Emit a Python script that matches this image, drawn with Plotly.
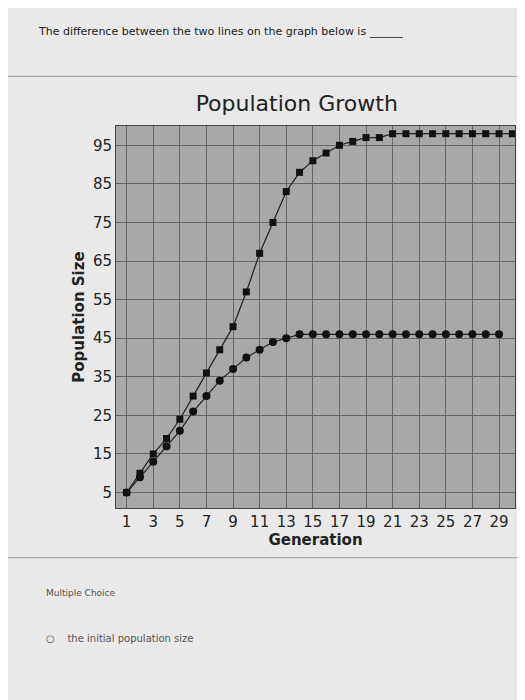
import plotly.graph_objects as go

gens = list(range(1, 31))
squares = [5, 10, 15, 19, 24, 30, 36, 42, 48, 57, 67, 75, 83, 88, 91, 93, 95, 96, 97, 97,
           98, 98, 98, 98, 98, 98, 98, 98, 98, 98]
circ_gens = list(range(1, 30))
circles = [5, 9, 13, 17, 21, 26, 30, 34, 37, 40, 42, 44, 45, 46, 46, 46, 46, 46, 46, 46,
           46, 46, 46, 46, 46, 46, 46, 46, 46]
xticks = list(range(1, 30, 2))
yticks = list(range(5, 100, 10))

fig = go.Figure()
fig.add_trace(go.Scatter(x=gens, y=squares, mode="lines+markers",
                         line=dict(color="#222", width=1.2),
                         marker=dict(symbol="square", size=7, color="#111")))
fig.add_trace(go.Scatter(x=circ_gens, y=circles, mode="lines+markers",
                         line=dict(color="#222", width=1.2),
                         marker=dict(symbol="circle", size=8, color="#111")))

fig.update_layout(
    width=525, height=700, showlegend=False,
    paper_bgcolor="#e9e9e9", plot_bgcolor="#a8a8a8",
    margin=dict(l=108, r=18, t=118, b=200),
    font=dict(family="DejaVu Sans", color="#222"),
    title=dict(text="Population Growth", x=0.55, y=0.875,
               font=dict(size=22, color="#222")),
    xaxis=dict(range=[0.2, 30.2], tickvals=xticks, showgrid=True,
               gridcolor="#666", gridwidth=1, zeroline=False,
               title=dict(text="<b>Generation</b>", font=dict(size=15), standoff=2),
               tickfont=dict(size=15), showline=True, linecolor="#444", mirror=True),
    yaxis=dict(range=[1, 100], tickvals=yticks, showgrid=True,
               gridcolor="#666", zeroline=False,
               title=dict(text="<b>Population Size</b>", font=dict(size=15), standoff=4),
               tickfont=dict(size=15), showline=True, linecolor="#444", mirror=True),
    shapes=[dict(type="rect", xref="paper", yref="paper", x0=-0.28, x1=1.03,
                 y0=-0.13, y1=1.13, line=dict(color="#999", width=1))],
    annotations=[
        dict(text="The difference between the two lines on the graph below is ______",
             xref="paper", yref="paper", x=-0.2, y=1.27, xanchor="left",
             showarrow=False, font=dict(size=11)),
        dict(text="Multiple Choice", xref="paper", yref="paper", x=-0.18, y=-0.24,
             xanchor="left", showarrow=False, font=dict(size=9, color="#555")),
        dict(text="○&nbsp;&nbsp;&nbsp;&nbsp;the initial population size", xref="paper",
             yref="paper", x=-0.18, y=-0.36, xanchor="left", showarrow=False,
             font=dict(size=10, color="#555")),
    ],
)
fig.write_html("out.html")
